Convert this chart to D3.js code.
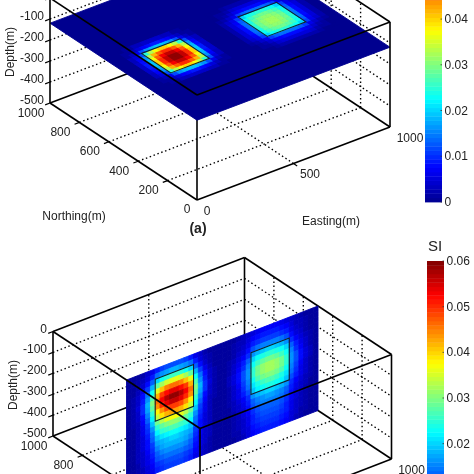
<!DOCTYPE html>
<html><head><meta charset="utf-8">
<script src="https://cdnjs.cloudflare.com/ajax/libs/d3/7.8.5/d3.min.js"></script>
<style>
html,body{margin:0;padding:0;background:#fff;overflow:hidden}
svg{display:block;filter:blur(0.35px)}
text{font-family:"Liberation Sans",Arial,sans-serif;fill:#222;font-size:12px}
</style></head><body><svg id="c" width="474" height="474"></svg>
<script>
const depthTicks=[0,-100,-200,-300,-400,-500];
const northTicks=[0,200,400,600,800,1000];
const eastTicks=[0,500,1000];
const barTicks=[0,0.01,0.02,0.03,0.04,0.05,0.06];
const slabDepth=-120, sliceNorthing=500, cell=25;
const westBodyE=[150,350], westBodyN=[375,575], westBodyZ=[-50,-250];
const eastBodyE=[650,850], eastBodyN=[375,575], eastBodyZ=[-100,-300];
// susceptibility in units of 0.001 SI
const slabWestStart=[75,300];
const slabWest=[
[0,1,1,3,3,4,4,4,4,3,3,1,1,0],
[1,1,3,5,7,8,9,9,8,7,5,3,1,1],
[1,3,6,12,16,18,19,19,18,16,12,6,3,1],
[3,5,12,25,33,37,40,40,37,33,25,12,5,3],
[3,7,16,33,42,47,50,50,47,42,33,16,7,3],
[4,8,18,37,47,53,56,56,53,47,37,18,8,4],
[4,9,19,40,50,56,59,59,56,50,40,19,9,4],
[4,9,19,40,50,56,59,59,56,50,40,19,9,4],
[4,8,18,37,47,53,56,56,53,47,37,18,8,4],
[3,7,16,33,42,47,50,50,47,42,33,16,7,3],
[3,5,12,25,33,37,40,40,37,33,25,12,5,3],
[1,3,6,12,16,18,19,19,18,16,12,6,3,1],
[1,1,3,5,7,8,9,9,8,7,5,3,1,1],
[0,1,1,3,3,4,4,4,4,3,3,1,1,0]];
const slabEastStart=[550,275];
const slabEast=[
[0,0,0,1,2,2,2,2,2,2,2,2,1,0,0,0],
[0,1,1,2,4,5,5,5,5,5,5,4,2,1,1,0],
[0,1,2,4,6,7,8,8,8,8,7,6,4,2,1,0],
[1,2,4,6,11,13,14,14,14,14,13,11,6,4,2,1],
[2,4,6,11,20,23,24,25,25,24,23,20,11,6,4,2],
[2,5,7,13,23,26,28,29,29,28,26,23,13,7,5,2],
[2,5,8,14,24,28,30,31,31,30,28,24,14,8,5,2],
[2,5,8,14,25,29,31,32,32,31,29,25,14,8,5,2],
[2,5,8,14,25,29,31,32,32,31,29,25,14,8,5,2],
[2,5,8,14,24,28,30,31,31,30,28,24,14,8,5,2],
[2,5,7,13,23,26,28,29,29,28,26,23,13,7,5,2],
[2,4,6,11,20,23,24,25,25,24,23,20,11,6,4,2],
[1,2,4,6,11,13,14,14,14,14,13,11,6,4,2,1],
[0,1,2,4,6,7,8,8,8,8,7,6,4,2,1,0],
[0,1,1,2,4,5,5,5,5,5,5,4,2,1,1,0],
[0,0,0,1,2,2,2,2,2,2,2,2,1,0,0,0]];
const sliceValues=[
[1,1,1,2,4,6,9,11,12,12,12,12,11,9,6,4,2,1,1,1,1,1,1,2,3,4,5,6,7,7,7,7,6,5,4,3,2,1,1,1],
[1,1,2,3,5,9,14,16,17,18,18,17,16,14,9,5,3,2,1,1,1,1,2,3,3,5,7,8,9,9,9,9,8,7,5,3,3,2,1,1],
[1,1,2,4,8,13,20,23,25,26,26,25,23,20,13,8,4,2,1,1,1,1,2,3,4,6,9,10,11,11,11,11,10,9,6,4,3,2,1,1],
[1,1,3,6,11,18,28,32,35,36,36,35,32,28,18,11,6,3,1,1,1,1,2,4,5,8,12,14,15,15,15,15,14,12,8,5,4,2,1,1],
[1,2,4,8,14,23,36,41,45,46,46,45,41,36,23,14,8,4,2,1,1,2,3,5,7,10,16,18,19,20,20,19,18,16,10,7,5,3,2,1],
[1,2,4,9,16,27,42,49,52,54,54,52,49,42,27,16,9,4,2,1,1,2,4,6,9,13,20,23,24,25,25,24,23,20,13,9,6,4,2,1],
[1,2,5,10,18,30,46,53,57,59,59,57,53,46,30,18,10,5,2,1,1,2,4,7,10,15,23,26,28,29,29,28,26,23,15,10,7,4,2,1],
[1,2,4,10,17,28,44,50,54,56,56,54,50,44,28,17,10,4,2,1,1,3,5,8,12,16,25,29,31,32,32,31,29,25,16,12,8,5,3,1],
[1,2,4,8,15,25,38,44,48,49,49,48,44,38,25,15,8,4,2,1,1,3,5,8,12,16,25,29,31,32,32,31,29,25,16,12,8,5,3,1],
[1,2,3,7,13,22,34,39,42,43,43,42,39,34,22,13,7,3,2,1,1,2,4,7,11,15,23,27,29,30,30,29,27,23,15,11,7,4,2,1],
[1,1,3,6,11,19,29,33,36,37,37,36,33,29,19,11,6,3,1,1,1,2,4,6,10,14,21,24,26,27,27,26,24,21,14,10,6,4,2,1],
[1,1,3,6,10,16,25,28,30,31,31,30,28,25,16,10,6,3,1,1,1,2,4,6,9,12,19,22,23,24,24,23,22,19,12,9,6,4,2,1],
[1,1,3,5,9,14,22,25,26,27,27,26,25,22,14,9,5,3,1,1,1,2,3,5,7,10,16,18,19,20,20,19,18,16,10,7,5,3,2,1],
[1,1,3,5,8,13,19,21,22,23,23,22,21,19,13,8,5,3,1,1,1,1,3,4,6,9,13,15,16,17,17,16,15,13,9,6,4,3,1,1],
[1,1,3,5,8,11,17,18,19,20,20,19,18,17,11,8,5,3,1,1,1,1,2,4,5,8,12,14,15,15,15,15,14,12,8,5,4,2,1,1],
[1,1,3,4,7,10,15,17,18,18,18,18,17,15,10,7,4,3,1,1,1,1,2,3,5,7,10,12,13,13,13,13,12,10,7,5,3,2,1,1],
[1,1,3,4,6,9,13,15,16,16,16,16,15,13,9,6,4,3,1,1,1,1,2,3,4,6,9,11,12,12,12,12,11,9,6,4,3,2,1,1],
[1,1,2,4,6,8,12,13,14,14,14,14,13,12,8,6,4,2,1,1,1,1,2,3,4,6,9,10,11,11,11,11,10,9,6,4,3,2,1,1],
[1,1,2,3,5,7,10,11,12,12,12,12,11,10,7,5,3,2,1,1,1,1,2,2,4,5,8,9,10,10,10,10,9,8,5,4,2,2,1,1],
[1,1,2,3,5,6,9,10,11,11,11,11,10,9,6,5,3,2,1,1,1,1,1,2,3,5,7,8,9,9,9,9,8,7,5,3,2,1,1,1]];

const jet=d3.scaleLinear().domain([0,0.125,0.375,0.625,0.875,1].map(t=>t*0.06))
  .range(["#00008f","#0000ff","#00ffff","#ffff00","#ff0000","#800000"]).clamp(true);
const svg=d3.select("#c");
const onPage=y=>y>4 && y<474;

function panel(o){
  const g=svg.append("g");
  const xE=d3.scaleLinear([0,1000],[0,o.ex]), yE=d3.scaleLinear([0,1000],[0,o.ey]);
  const xN=d3.scaleLinear([0,1000],[0,o.nx]), yN=d3.scaleLinear([0,1000],[0,o.ny]);
  const yZ=d3.scaleLinear([-500,0],[0,-o.zh]);
  const P=(e,n,z)=>[o.x0+xE(e)+xN(n), o.y0+yE(e)+yN(n)+yZ(z)];
  const poly=(pts)=>pts.map(p=>p.join(",")).join(" ");
  const seg=(a,b,w,dash,parent)=>(parent||g).append("line")
    .attr("x1",a[0]).attr("y1",a[1]).attr("x2",b[0]).attr("y2",b[1])
    .attr("stroke","#000").attr("stroke-width",w).attr("stroke-dasharray",dash||null);
  const gridDash="1.5 2.6", gw=1.35, bw=1.6;
  // grid
  northTicks.slice(1,-1).forEach(n=>{
    seg(P(0,n,-500),P(1000,n,-500),gw,gridDash);
    seg(P(1000,n,-500),P(1000,n,0),gw,gridDash);
  });
  seg(P(500,0,-500),P(500,1000,-500),gw,gridDash);
  seg(P(500,1000,-500),P(500,1000,0),gw,gridDash);
  depthTicks.slice(1,-1).forEach(z=>{
    seg(P(0,1000,z),P(1000,1000,z),gw,gridDash);
    seg(P(1000,1000,z),P(1000,0,z),gw,gridDash);
  });
  // back box edges
  seg(P(0,1000,-500),P(1000,1000,-500),bw);
  seg(P(1000,1000,-500),P(1000,0,-500),bw);
  seg(P(1000,1000,-500),P(1000,1000,0),bw);
  seg(P(0,1000,0),P(1000,1000,0),bw);
  seg(P(1000,1000,0),P(1000,0,0),bw);
  if(o.mode==="slab") seg(P(0,0,-500),P(0,0,0),bw);
  o.draw(g,P,poly);
  // front box edges
  seg(P(0,0,0),P(0,1000,0),bw);
  seg(P(0,0,0),P(1000,0,0),bw);
  if(o.mode!=="slab") seg(P(0,0,-500),P(0,0,0),bw);
  seg(P(0,1000,-500),P(0,1000,0),bw);
  seg(P(1000,0,-500),P(1000,0,0),bw);
  seg(P(0,0,-500),P(0,1000,-500),bw);
  seg(P(0,0,-500),P(1000,0,-500),bw);
  // ticks
  depthTicks.forEach(z=>seg(P(0,1000,z),P(-25,1000,z),1.2));
  northTicks.slice(1,-1).forEach(n=>seg(P(0,n,-500),P(-25,n,-500),1.2));
  seg(P(500,0,-500),P(500,-25,-500),1.2);
  // labels
  const label=(t,x,y,a,extra)=>{
     if(!extra && !onPage(y)) return null;
     const s=g.append("text").attr("x",x).attr("y",y)
     .attr("text-anchor",a||"middle").attr("dominant-baseline","central").text(t);
     if(extra) extra(s); return s;};
  depthTicks.forEach(z=>{const p=P(0,1000,z);label(String(z),p[0]-6,p[1]-3,"end");});
  northTicks.slice(1).forEach(n=>{const p=P(0,n,-500);label(String(n),p[0]-19,p[1]+9.5);});
  eastTicks.slice(1).forEach(e=>{const p=P(e,0,-500);label(String(e),p[0]+13+e*0.007,p[1]+10.5);});
  const z0=P(0,0,-500);
  label("0",z0[0]-10,z0[1]+9); label("0",z0[0]+10,z0[1]+11);
  const dl=P(0,1000,-500);
  label("Depth(m)",0,0,"middle",s=>s.attr("transform",`translate(${dl[0]-40},${dl[1]-51}) rotate(-90)`));
  // colorbar
  const yB=d3.scaleLinear([0,0.06],o.barY);
  const levels=d3.range(64);
  g.selectAll(null).data(levels).enter().append("rect")
    .attr("x",o.barX).attr("width",17)
    .attr("y",d=>yB((d+1)/64*0.06)).attr("height",d=>yB(d/64*0.06)-yB((d+1)/64*0.06)+0.4)
    .attr("fill",d=>jet((d+0.5)/64*0.06));
  barTicks.forEach(t=>{
    if(onPage(yB(t))) g.append("text").attr("x",o.barX+19.5).attr("y",yB(t)).attr("dominant-baseline","central").text(t===0?"0":t.toFixed(2));
    g.append("line").attr("x1",o.barX+15.5).attr("x2",o.barX+17).attr("y1",yB(t)).attr("y2",yB(t)).attr("stroke","#333").attr("stroke-width",.8);
  });
  return {g,P,label};
}
function cellPoly(g,pts,v,poly){
  const c=jet(v/1000);
  g.append("polygon").attr("points",poly(pts)).attr("fill",c).attr("stroke",c).attr("stroke-width",.9).attr("stroke-linejoin","round");
}
function bodyLine(g,pts,poly){
  g.append("polygon").attr("points",poly(pts)).attr("fill","none").attr("stroke","#10202a").attr("stroke-width",1.05);
}
const a=panel({mode:"slab",x0:197,y0:200,ex:193,ey:-73,nx:-147,ny:-97,zh:105,barX:425,barY:[202,-72.4],
 draw(g,P,poly){
  const z=slabDepth;
  cellPoly(g,[P(0,0,z),P(1000,0,z),P(1000,1000,z),P(0,1000,z)],0,poly);
  [[slabWest,slabWestStart],[slabEast,slabEastStart]].forEach(([m,s])=>{
    m.forEach((row,j)=>row.forEach((v,i)=>{
      const e=s[0]+i*cell,n=s[1]+j*cell;
      cellPoly(g,[P(e,n,z),P(e+cell,n,z),P(e+cell,n+cell,z),P(e,n+cell,z)],v,poly);
    }));
  });
  [[westBodyE,westBodyN],[eastBodyE,eastBodyN]].forEach(([E,N])=>bodyLine(g,
    [P(E[0],N[0],z),P(E[1],N[0],z),P(E[1],N[1],z),P(E[0],N[1],z)],poly));
 }});
a.label("Northing(m)",74,216);
a.label("Easting(m)",331,221);
a.label("(a)",198,228).style("font-weight","bold").style("font-size","14px");
const b=panel({mode:"slice",x0:200,y0:533,ex:191.5,ey:-74,nx:-147,ny:-97,zh:104.5,barX:427,barY:[535,261],
 draw(g,P,poly){
  const n=sliceNorthing;
  sliceValues.forEach((row,r)=>row.forEach((v,c)=>{
    const e=c*cell,z=-r*cell;
    cellPoly(g,[P(e,n,z),P(e+cell,n,z),P(e+cell,n,z-cell),P(e,n,z-cell)],v,poly);
  }));
  [[westBodyE,westBodyZ],[eastBodyE,eastBodyZ]].forEach(([E,Z])=>bodyLine(g,
    [P(E[0],n,Z[0]),P(E[1],n,Z[0]),P(E[1],n,Z[1]),P(E[0],n,Z[1])],poly));
 }});
b.label("SI",435,245).style("font-size","15px");
</script></body></html>
